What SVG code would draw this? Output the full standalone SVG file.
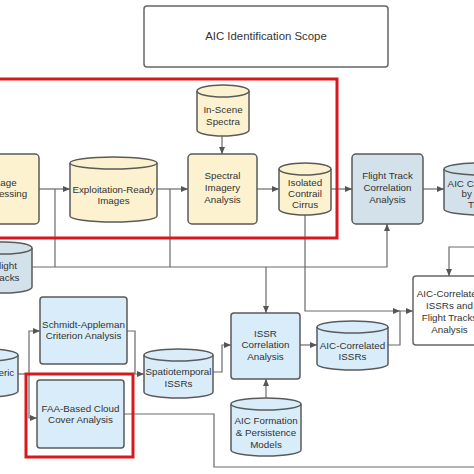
<svg xmlns="http://www.w3.org/2000/svg" width="474" height="474" viewBox="0 0 474 474">
<defs>
<marker id="arr" markerWidth="8" markerHeight="7" refX="7" refY="3" orient="auto" markerUnits="userSpaceOnUse">
<path d="M0,0 L7,3 L0,6 z" fill="#555"/>
</marker>
<style>
.t{font-family:"Liberation Sans",Arial,sans-serif;font-size:9.8px;fill:#333;text-anchor:middle}
.cream{fill:#fdf2d0;stroke:#5a5a5a;stroke-width:1.5}
.gblue{fill:#d3e2ea;stroke:#5a5a5a;stroke-width:1.5}
.lblue{fill:#d8edf9;stroke:#5a5a5a;stroke-width:1.5}
.white{fill:#fff;stroke:#666;stroke-width:1.5}
.c{fill:none;stroke:#6a6a6a;stroke-width:1.2}
.a{marker-end:url(#arr)}
.red{fill:none;stroke:#d7191f;stroke-width:3}
</style>
</defs>
<rect width="474" height="474" fill="#fff"/>

<g id="title">
<rect class="white" x="144" y="6" width="244" height="61" rx="3"/>
<text class="t" x="266" y="39.5" style="font-size:11.4px">AIC Identification Scope</text>
</g>

<g id="connectors">
<path class="c a" d="M39 189 H70"/>
<path class="c a" d="M157 189 H188"/>
<path class="c a" d="M222 136 V154"/>
<path class="c a" d="M257 189 H279"/>
<path class="c a" d="M331 189 H352"/>
<path class="c a" d="M423 189 H444"/>
<path class="c" d="M55 189 V267"/>
<path class="c" d="M170 189 V267"/>
<path class="c a" d="M32 267 H387 V224"/>
<path class="c a" d="M266 267 V313"/>
<path class="c a" d="M305 215 V311 H400"/>
<path class="c a" d="M388 345 H400 V311 H413"/>
<path class="c a" d="M490 215 V247 H449 V276"/>
<path class="c" d="M18 374 H29"/>
<path class="c a" d="M29 374 V331 H40"/>
<path class="c a" d="M29 374 V418 H37"/>
<path class="c a" d="M127 331 H135 V374 H144"/>
<path class="c a" d="M213 372 H222 V345 H231"/>
<path class="c a" d="M300 345 H317"/>
<path class="c a" d="M266 398 V379"/>
<path class="c" d="M124 414 H214 V467 H480"/>
</g>

<g id="image-processing">
<rect class="cream" x="-40" y="154" width="79" height="70" rx="4"/>
<text class="t" x="3" y="186">Image</text>
<text class="t" x="3" y="197">Processing</text>
</g>

<g id="exploitation-ready-images">
<path class="cream" d="M70 163 A43.5 6 0 0 1 157 163 V216 A43.5 6 0 0 1 70 216 Z"/>
<path class="cream" style="fill:none" d="M70 163 A43.5 6 0 0 0 157 163"/>
<text class="t" x="113.5" y="192.5">Exploitation-Ready</text>
<text class="t" x="113.5" y="203.5">Images</text>
</g>

<g id="in-scene-spectra">
<path class="cream" d="M197 91 A26 6 0 0 1 249 91 V130 A26 6 0 0 1 197 130 Z"/>
<path class="cream" style="fill:none" d="M197 91 A26 6 0 0 0 249 91"/>
<text class="t" x="223" y="112.5">In-Scene</text>
<text class="t" x="223" y="124.5">Spectra</text>
</g>

<g id="spectral-imagery-analysis">
<rect class="cream" x="188" y="154" width="69" height="70" rx="4"/>
<text class="t" x="222.5" y="178.5">Spectral</text>
<text class="t" x="222.5" y="190.5">Imagery</text>
<text class="t" x="222.5" y="202.5">Analysis</text>
</g>

<g id="isolated-contrail-cirrus">
<path class="cream" d="M279 169 A26 6 0 0 1 331 169 V209 A26 6 0 0 1 279 209 Z"/>
<path class="cream" style="fill:none" d="M279 169 A26 6 0 0 0 331 169"/>
<text class="t" x="305" y="185.5">Isolated</text>
<text class="t" x="305" y="196.5">Contrail</text>
<text class="t" x="305" y="207.5">Cirrus</text>
</g>

<g id="flight-track-correlation">
<rect class="gblue" x="352" y="154" width="71" height="70" rx="4"/>
<text class="t" x="387.5" y="178.5">Flight Track</text>
<text class="t" x="387.5" y="190.5">Correlation</text>
<text class="t" x="387.5" y="202.5">Analysis</text>
</g>

<g id="aic-by-flight-track">
<path class="gblue" d="M444 169 A36 6 0 0 1 516 169 V209 A36 6 0 0 1 444 209 Z"/>
<path class="gblue" style="fill:none" d="M444 169 A36 6 0 0 0 516 169"/>
<text class="t" x="480" y="186.5">AIC Correlated</text>
<text class="t" x="480" y="196.5">by Flight</text>
<text class="t" x="480" y="207.5">Track</text>
</g>

<g id="flight-tracks">
<path class="gblue" d="M-22 248 A27 6 0 0 1 32 248 V287 A27 6 0 0 1 -22 287 Z"/>
<path class="gblue" style="fill:none" d="M-22 248 A27 6 0 0 0 32 248"/>
<text class="t" x="5" y="268.5">Flight</text>
<text class="t" x="5" y="280.5">Tracks</text>
</g>

<g id="aic-correlated-analysis">
<rect class="white" x="413" y="276" width="80" height="69" rx="3"/>
<text class="t" x="449.5" y="296.5">AIC-Correlated</text>
<text class="t" x="449.5" y="308.5">ISSRs and</text>
<text class="t" x="449.5" y="320.5">Flight Tracks</text>
<text class="t" x="449.5" y="332.5">Analysis</text>
</g>

<g id="schmidt-appleman">
<rect class="lblue" x="40" y="297" width="87" height="67" rx="3"/>
<text class="t" x="83.5" y="327.5">Schmidt-Appleman</text>
<text class="t" x="83.5" y="338.5">Criterion Analysis</text>
</g>

<g id="atmospheric">
<path class="lblue" d="M-45 355 A31.5 6 0 0 1 18 355 V391 A31.5 6 0 0 1 -45 391 Z"/>
<path class="lblue" style="fill:none" d="M-45 355 A31.5 6 0 0 0 18 355"/>
<text class="t" x="-13" y="375.5">Atmospheric</text>
</g>

<g id="faa-cloud-cover">
<rect class="lblue" x="37" y="380" width="87" height="68" rx="3"/>
<text class="t" x="80.5" y="411.5">FAA-Based Cloud</text>
<text class="t" x="80.5" y="422.5">Cover Analysis</text>
</g>

<g id="spatiotemporal-issrs">
<path class="lblue" d="M144 355 A34.5 6 0 0 1 213 355 V392 A34.5 6 0 0 1 144 392 Z"/>
<path class="lblue" style="fill:none" d="M144 355 A34.5 6 0 0 0 213 355"/>
<text class="t" x="178.5" y="374.5">Spatiotemporal</text>
<text class="t" x="178.5" y="387">ISSRs</text>
</g>

<g id="issr-correlation">
<rect class="lblue" x="231" y="313" width="69" height="66" rx="3"/>
<text class="t" x="265.5" y="336.5">ISSR</text>
<text class="t" x="265.5" y="347.5">Correlation</text>
<text class="t" x="265.5" y="359.5">Analysis</text>
</g>

<g id="aic-correlated-issrs">
<path class="lblue" d="M317 327 A35.5 6 0 0 1 388 327 V364 A35.5 6 0 0 1 317 364 Z"/>
<path class="lblue" style="fill:none" d="M317 327 A35.5 6 0 0 0 388 327"/>
<text class="t" x="352.5" y="348.5">AIC-Correlated</text>
<text class="t" x="352.5" y="360">ISSRs</text>
</g>

<g id="aic-formation-models">
<path class="lblue" d="M231 404 A35 6 0 0 1 301 404 V450 A35 6 0 0 1 231 450 Z"/>
<path class="lblue" style="fill:none" d="M231 404 A35 6 0 0 0 301 404"/>
<text class="t" x="266" y="423.5">AIC Formation</text>
<text class="t" x="266" y="435.5">&amp; Persistence</text>
<text class="t" x="266" y="447.5">Models</text>
</g>

<g id="highlights">
<rect class="red" x="-5" y="79" width="342" height="159"/>
<rect class="red" x="26" y="374" width="107" height="83"/>
</g>
</svg>
